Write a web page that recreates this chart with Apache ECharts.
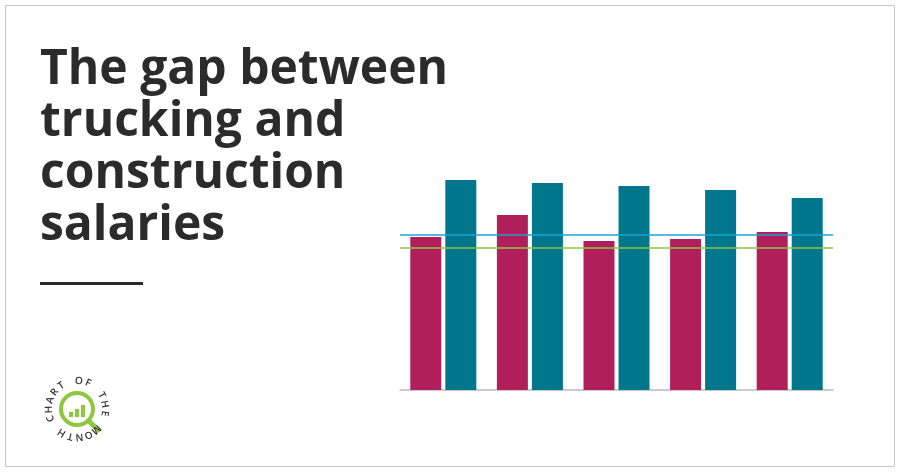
<!DOCTYPE html>
<html><head><meta charset="utf-8">
<script src="https://cdn.jsdelivr.net/npm/echarts@6/dist/echarts.min.js"></script>
<style>html,body{margin:0;padding:0;background:#fff}#c{width:900px;height:473px}</style>
</head><body><div id="c"></div>
<script>
const categories = ['A','B','C','D','E'];
const trucking = [153, 175, 149, 151, 158];
const construction = [210, 207, 204, 200, 192];
const blueLine = 155;
const greenLine = 142;
const titleLines = ['The gap between','trucking and','construction','salaries'];

const chart = echarts.init(document.getElementById('c'));
const cx = 77, cy = 409;
const logo = [];
logo.push({type:'circle',shape:{cx:cx,cy:cy,r:16},style:{fill:'#fff',stroke:'#8dc63f',lineWidth:4}});
logo.push({type:'line',shape:{x1:cx+12,y1:cy+12,x2:cx+21,y2:cy+21},style:{stroke:'#8dc63f',lineWidth:5,lineCap:'round'}});
[[-8,5],[-2,8],[4,12]].forEach(function(b){logo.push({type:'rect',shape:{x:cx+b[0],y:cy+8-b[1],width:4,height:b[1]},style:{fill:'#8dc63f'}});});
const ringText = 'CHART OF THE MONTH';
for (let i=0;i<ringText.length;i++){
  const a = (200 - i*19)*Math.PI/180;
  const r = 28;
  logo.push({type:'text',x:cx+r*Math.cos(a),y:cy-r*Math.sin(a),rotation:a-Math.PI/2,
    style:{text:ringText[i],fill:'#333',font:'600 10px "Open Sans"',align:'center',verticalAlign:'middle'}});
}

chart.setOption({
  animation:false,
  grid:{left:400,right:67,top:180,bottom:83},
  xAxis:{type:'category',data:categories,axisLine:{lineStyle:{color:'#bbb',width:1.5}},axisTick:{show:false},axisLabel:{show:false}},
  yAxis:{type:'value',min:0,max:210,show:false,splitLine:{show:false}},
  graphic:[
    {type:'rect',shape:{x:5.5,y:5.5,width:889,height:461},style:{fill:'none',stroke:'#c8c8c8',lineWidth:1}},
    {type:'text',left:40,top:44,style:{text:titleLines.join('\n'),fill:'#2b2b2b',font:'bold 48px "Open Sans"',lineHeight:52}},
    {type:'rect',shape:{x:40,y:282,width:103,height:3},style:{fill:'#2b2b2b'}}
  ].concat(logo),
  series:[
    {type:'bar',data:trucking,barWidth:31,barGap:'13%',itemStyle:{color:'#b01f5c'},
     markLine:{symbol:'none',silent:true,label:{show:false},data:[
       {yAxis:blueLine,lineStyle:{color:'#1aa3d6',width:1.5,type:'solid'}},
       {yAxis:greenLine,lineStyle:{color:'#8dc63f',width:1.5,type:'solid'}}]}},
    {type:'bar',data:construction,barWidth:31,itemStyle:{color:'#00778c'}}
  ]
});
</script></body></html>
